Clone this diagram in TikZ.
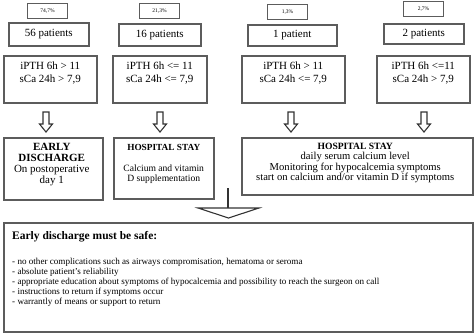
\documentclass[tikz,border=0pt]{standalone}
\usepackage{fontspec}
\setmainfont{Liberation Serif}
\usetikzlibrary{calc}
\definecolor{bord}{HTML}{5C5C5C}
\newcommand\blockarrow[1]{%
  \draw[blk] (#1-3,112) -- (#1+3,112) -- (#1+3,124) -- (#1+6.5,124) -- (#1,132) -- (#1-6.5,124) -- (#1-3,124) -- cycle;}
\begin{document}
\begin{tikzpicture}[x=1pt,y=-1pt,
  box/.style={draw=bord, line width=1.5pt, inner sep=0pt, anchor=north west},
  pct/.style={box, line width=1.1pt, font=\rmfamily\fontsize{5.5}{6}\selectfont},
  pat/.style={box, font=\rmfamily\fontsize{11}{13}\selectfont},
  txt/.style={align=center, inner sep=0pt},
  blk/.style={draw=black!80, line width=1.1pt, fill=white}]
\useasboundingbox[fill=white] (0,0) rectangle (474,333);

% percentages
\node[pct, minimum width=40, minimum height=15] (p1) at (27,3) {74,7\%};
\node[pct, minimum width=40, minimum height=15] (p2) at (139,3) {21,3\%};
\node[pct, minimum width=40, minimum height=15] (p3) at (267,4) {1,3\%};
\node[pct, minimum width=40, minimum height=15] (p4) at (403,1) {2,7\%};

% patients
\node[pat, minimum width=80, minimum height=23] (n1) at (8,22) {56 patients};
\node[pat, minimum width=82, minimum height=22] (n2) at (118,23) {16 patients};
\node[pat, minimum width=89, minimum height=21] (n3) at (247,24) {1 patient};
\node[pat, minimum width=80, minimum height=20] (n4) at (383,23) {2 patients};

% criteria
\node[box, minimum width=93, minimum height=47] (c1) at (3,55) {};
\node[box, minimum width=94, minimum height=47] (c2) at (112,55) {};
\node[box, minimum width=103, minimum height=47] (c3) at (241,55) {};
\node[box, minimum width=93, minimum height=47] (c4) at (376,55) {};
\begin{scope}[every node/.style={txt, font=\rmfamily\fontsize{11}{13}\selectfont}]
\node (t1) at ($(c1.north)+(0,18.5)$) {iPTH 6h > 11\\sCa 24h > 7,9};
\node (t2) at ($(c2.north)+(0,18.5)$) {iPTH 6h <= 11\\sCa 24h <= 7,9};
\node (t3) at ($(c3.north)+(0,18.5)$) {iPTH 6h > 11\\sCa 24h <= 7,9};
\node (t4) at ($(c4.north)+(0,18.5)$) {iPTH 6h <=11\\sCa 24h > 7,9};
\end{scope}

% block arrows
\blockarrow{46}
\blockarrow{160}
\blockarrow{291}
\blockarrow{424}

% outcomes
\node[box, minimum width=99, minimum height=62] (o1) at (3,137) {};
\node[box, minimum width=100, minimum height=61] (o2) at (113,137) {};
\node[box, minimum width=231, minimum height=57] (o3) at (241,137) {};

\node[txt, font=\rmfamily\fontsize{11}{11}\selectfont] (u1) at ($(o1.north)+(-1.5,28)$)
  {\textbf{EARLY}\\\textbf{DISCHARGE}\\On postoperative\\day 1};
\node[txt, font=\rmfamily\bfseries\fontsize{9.3}{10}\selectfont] (u2a) at ($(o2.north)+(0,10.5)$) {HOSPITAL STAY};
\node[txt, font=\rmfamily\fontsize{9.6}{10}\selectfont] (u2b) at ($(o2.north)+(0,37)$) {Calcium and vitamin\\D supplementation};
\node[txt, font=\rmfamily\fontsize{10.6}{10.6}\selectfont] (u3) at ($(o3.north)+(-2,26)$)
  {{\bfseries\fontsize{9.6}{10.6}\selectfont HOSPITAL STAY}\\daily serum calcium level\\Monitoring for hypocalcemia symptoms\\start on calcium and/or vitamin D if symptoms};

% merge arrow
\coordinate (m) at (228,188);
\coordinate (mt) at (228,208);
\draw[draw=black!80, line width=1.1pt] (m) -- (mt);
\draw[draw=black!80, line width=1.1pt, fill=white] (198,208) -- (259,208) -- (228.5,218) -- cycle;

% bottom box
\node[box, minimum width=469, minimum height=109] (b) at (3,222) {};
\node[anchor=base west, inner sep=0pt, font=\rmfamily\bfseries\fontsize{11.5}{12}\selectfont] (bt) at (12,239) {Early discharge must be safe:};
\node[anchor=north west, inner sep=0pt, align=left, font=\rmfamily\fontsize{9.1}{10}\selectfont] (bl) at (12,258)
  {- no other complications such as airways compromisation, hematoma or seroma\\
   - absolute patient's reliability\\
   - appropriate education about symptoms of hypocalcemia and possibility to reach the surgeon on call\\
   - instructions to return if symptoms occur\\
   - warrantly of means or support to return};
\end{tikzpicture}
\end{document}
